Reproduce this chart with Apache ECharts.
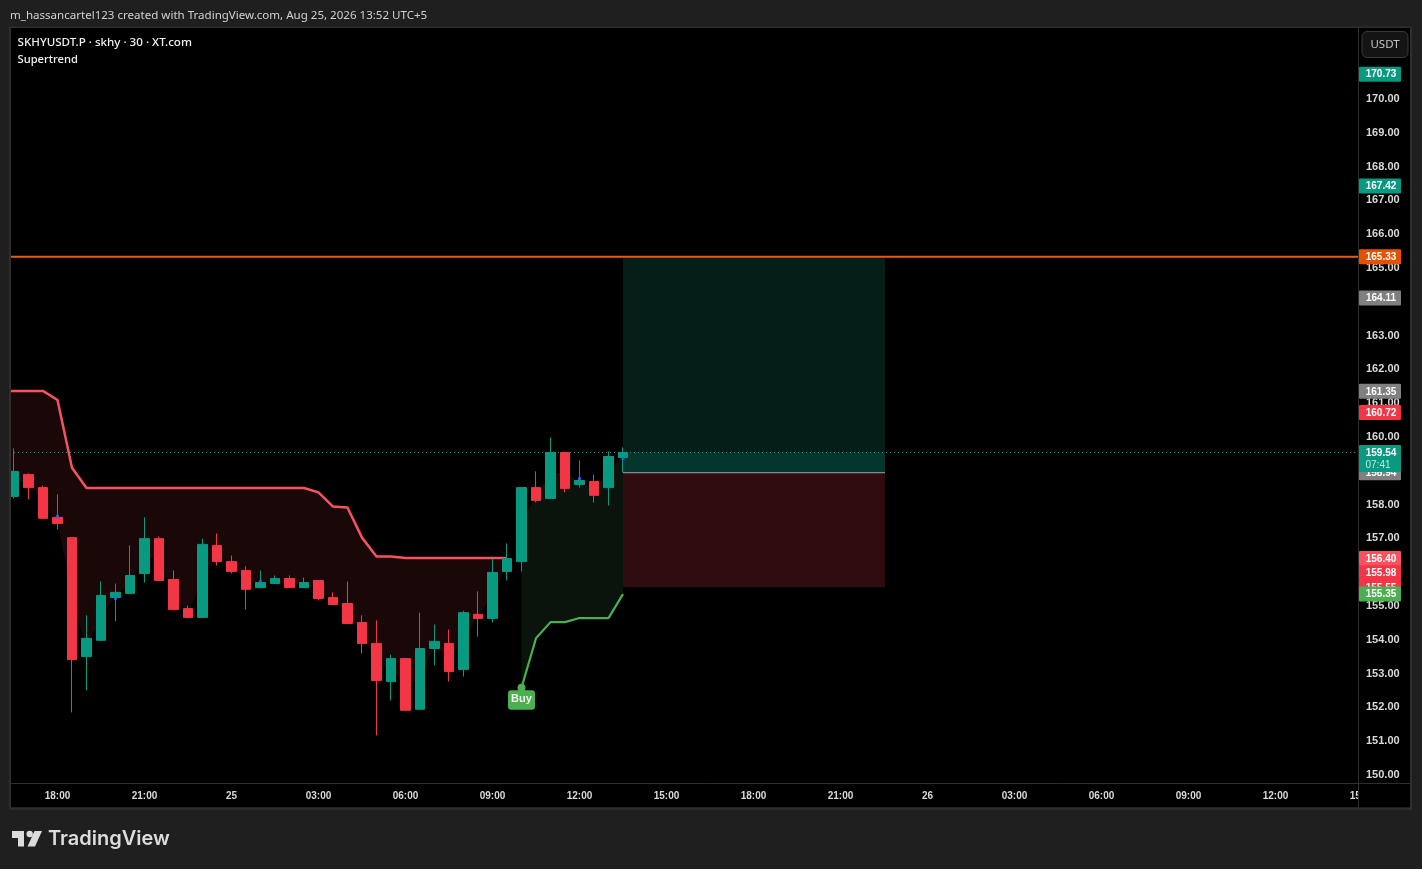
<!DOCTYPE html>
<html>
<head>
<meta charset="utf-8">
<style>html,body{margin:0;padding:0;background:#1f1f1f;overflow:hidden}#c{width:1422px;height:869px}</style>
<script src="https://cdn.jsdelivr.net/npm/echarts@6/dist/echarts.min.js"></script>
</head>
<body>
<div id="c"></div>
<script>
// [open, high, low, close] per 30-minute candle
var candles = [
[158.24,159.66,158.18,158.98],[158.89,158.92,158.15,158.50],[158.50,158.56,157.59,157.59],[157.62,158.30,157.26,157.44],
[157.02,157.02,151.85,153.41],[153.50,154.72,152.50,154.04],[153.98,155.72,153.98,155.31],[155.25,155.66,154.54,155.40],
[155.37,156.79,155.37,155.90],[155.96,157.62,155.69,156.99],[156.99,157.05,155.75,155.75],[155.78,156.05,154.89,154.89],
[154.92,155.01,154.63,154.66],[154.66,156.99,154.66,156.82],[156.79,157.14,156.20,156.31],[156.31,156.49,155.96,156.02],
[156.05,156.17,154.89,155.49],[155.54,156.05,155.54,155.69],[155.66,155.90,155.66,155.81],[155.81,155.90,155.54,155.54],
[155.54,155.84,155.54,155.69],[155.75,155.75,155.16,155.22],[155.25,155.40,155.04,155.04],[155.07,155.72,154.48,154.48],
[154.51,154.72,153.59,153.89],[153.89,154.57,151.17,152.79],[152.76,153.56,152.20,153.44],[153.44,153.44,151.88,151.91],
[151.94,154.80,151.94,153.74],[153.74,154.45,153.24,153.95],[153.89,154.30,152.76,153.06],[153.12,154.86,152.91,154.80],
[154.75,155.43,154.09,154.63],[154.63,156.40,154.51,155.99],[156.02,156.85,155.75,156.40],[156.31,158.50,156.02,158.50],
[158.50,158.98,158.06,158.12],[158.18,159.98,158.18,159.54],[159.54,159.54,158.36,158.47],[158.59,159.30,158.50,158.71],
[158.68,158.89,158.06,158.27],[158.50,159.57,157.97,159.42],[159.39,159.69,158.95,159.54]
];
// Supertrend down-trend values, candle -1 to 34
var trendDown = [161.36,161.36,161.36,161.36,161.09,159.09,158.49,158.49,158.49,158.49,158.49,158.49,158.49,158.49,158.49,158.49,158.49,158.49,158.49,158.49,158.49,158.49,158.36,157.94,157.91,157.02,156.46,156.46,156.42,156.42,156.42,156.42,156.42,156.42,156.42,156.42];
// Supertrend up-trend values, candle 35 to 42
var trendUp = [152.58,154.04,154.52,154.52,154.64,154.64,154.64,155.35];
var blueMarks = [[3,157.65],[7,155.22],[17,155.72],[39,158.77],[42,159.36]];
var priceTicks = [150,151,152,153,154,155,156,157,158,159,160,161,162,163,164,165,166,167,168,169,170];
var timeTickIndex = [3,9,15,21,27,33,39,45,51,57,63,69,75,81,87,93];
var timeTickLabels = ['18:00','21:00','25','03:00','06:00','09:00','12:00','15:00','18:00','21:00','26','03:00','06:00','09:00','12:00','15:00'];
var lastPrice = 159.54;
var entryPrice = 158.94, targetPrice = 165.33, stopPrice = 155.55;
var positionStart = 42, positionEnd = 60.07;
var buyIndex = 35, buyPrice = 152.58;
var tagPrices = [170.73,167.42,165.33,164.11,161.35,160.72,158.94,159.54,156.40,155.98,155.55,155.35];
var tagColors = ['#089981','#089981','#e65100','#7f7f7f','#808080','#f23645','#808080','#089981','#f7525f','#f23645','#f23645','#4caf50'];
var countdown = '07:41';

var TEAL='#089981', RED='#f23645';
var FONT='"Liberation Sans",Arial,sans-serif';
var xMin=-0.276, xMax=96.345, xPlotEnd=92.69;

function bodyMid(c){return (c[0]+c[3])/2;}
function bandPoints(api,line,lineStart){
  var top=[],bot=[];
  line.forEach(function(v,k){
    var idx=lineStart+k; top.push(api.coord([idx,v]));
    var c=candles[idx];
    bot.push(api.coord([idx,bodyMid(c||candles[0])]));
  });
  return top.concat(bot.reverse());
}
function bandSeries(line,lineStart,color){
  return {type:'custom',coordinateSystem:'cartesian2d',silent:true,z:1,clip:true,data:[[lineStart,line[0]]],
    encode:{x:0,y:1},
    renderItem:function(p,api){return {type:'polygon',shape:{points:bandPoints(api,line,lineStart)},style:{fill:color}};}};
}
var zones=[[positionStart,positionEnd,targetPrice,lastPrice],[positionStart,positionEnd,lastPrice,entryPrice],[positionStart,positionEnd,entryPrice,stopPrice]];
var zoneColors=['#051e18','#05362e','#2f0c10'];

var option={
  animation:false,
  backgroundColor:'#1f1f1f',
  textStyle:{fontFamily:FONT},
  grid:{left:10,top:28,width:1401,height:755,show:true,backgroundColor:'#000',borderWidth:0,containLabel:false},
  xAxis:{type:'value',min:xMin,max:xMax,splitLine:{show:false},axisTick:{show:false},
    axisLine:{show:true,lineStyle:{color:'#2e2e2e',width:1}},
    axisLabel:{customValues:timeTickIndex,color:'#d9d9d9',fontSize:10,fontWeight:'bold',fontFamily:FONT,margin:8,hideOverlap:false,
      formatter:function(v){return timeTickLabels[timeTickIndex.indexOf(v)];}}},
  yAxis:{type:'value',position:'right',offset:-53,min:149.760,max:172.098,splitLine:{show:false},axisTick:{show:false},
    axisLine:{show:false},
    axisLabel:{customValues:priceTicks,color:'#d9d9d9',fontSize:11,fontWeight:'bold',fontFamily:FONT,margin:8,
      formatter:function(v){return v.toFixed(2);}}},
  series:[
    bandSeries(trendDown,-1,'#1a0809'),
    bandSeries(trendUp,buyIndex,'#0a130c'),
    {type:'custom',silent:true,z:1,clip:true,data:zones,encode:{x:[0,1],y:[2,3]},
      renderItem:function(p,api){
        var a=api.coord([api.value(0),api.value(2)]),b=api.coord([api.value(1),api.value(3)]);
        return {type:'rect',shape:{x:a[0],y:a[1],width:b[0]-a[0],height:b[1]-a[1]},style:{fill:zoneColors[p.dataIndex]}};
      }},
    {type:'line',z:2,silent:true,symbol:'none',data:[[xMin,lastPrice],[xPlotEnd,lastPrice]],lineStyle:{color:'#0aa98e',width:1,type:[1,3]}},
    {type:'line',z:2,silent:true,symbol:'none',data:[[positionStart,entryPrice],[positionEnd,entryPrice]],lineStyle:{color:'#a6a6a6',width:1}},
    {type:'line',z:2,silent:true,symbol:'none',data:trendDown.map(function(v,k){return [k-1,v];}),lineStyle:{color:'#f7525f',width:2.5}},
    {type:'line',z:2,silent:true,symbol:'none',data:trendUp.map(function(v,k){return [buyIndex+k,v];}),lineStyle:{color:'#4caf50',width:2.2}},
    {type:'candlestick',z:3,silent:true,barWidth:10,
      data:candles.map(function(c,i){return [i,c[0],c[3],c[2],c[1]];}),
      itemStyle:{color:TEAL,color0:RED,borderColor:TEAL,borderColor0:RED,borderWidth:1}},
    {type:'scatter',z:4,silent:true,symbol:'rect',symbolSize:3,data:blueMarks,itemStyle:{color:'#2962ff'}},
    {type:'line',z:2,silent:true,symbol:'none',data:[[xMin,targetPrice],[xPlotEnd,targetPrice]],lineStyle:{color:'#f15a0a',width:2}},
    {type:'custom',z:5,silent:true,clip:false,data:[[buyIndex,buyPrice]],encode:{x:0,y:1},
      renderItem:function(p,api){
        var c=api.coord([api.value(0),api.value(1)]);
        return {type:'group',children:[
          {type:'circle',shape:{cx:c[0],cy:c[1],r:4},style:{fill:'#4caf50'}},
          {type:'rect',shape:{x:c[0]-13.5,y:c[1]+2.5,width:27,height:19.5,r:3},style:{fill:'#4caf50'}},
          {type:'text',style:{text:'Buy',x:c[0],y:c[1]+11.5,fill:'#f0f0f0',font:'bold 11px '+FONT,textAlign:'center',textVerticalAlign:'middle'}}
        ]};
      }},
    {type:'custom',z:6,silent:true,clip:false,data:tagPrices.map(function(v){return [0,v];}),encode:{x:0,y:1},
      renderItem:function(p,api){
        var v=api.value(1),y=api.coord([0,v])[1],big=(v===lastPrice);
        var kids=[{type:'rect',shape:{x:1359,y:y-7.5,width:42,height:big?27:15,r:1},style:{fill:tagColors[p.dataIndex]}},
          {type:'text',style:{text:v.toFixed(2),x:1381,y:y+0.5,fill:'#fff',font:'bold 10px '+FONT,textAlign:'center',textVerticalAlign:'middle'}}];
        if(big) kids.push({type:'text',style:{text:countdown,x:1378,y:y+12.5,fill:'#bfe6df',font:'10px '+FONT,textAlign:'center',textVerticalAlign:'middle'}});
        return {type:'group',children:kids};
      }}
  ],
  graphic:[
    {type:'rect',z:-1,shape:{x:10,y:27.5,width:1401,height:781},style:{fill:'#000',stroke:'#2e2e2e',lineWidth:2}},
    {type:'rect',z:1,shape:{x:1358.5,y:784,width:52,height:23.5},style:{fill:'#000'}},
    {type:'line',z:1,shape:{x1:1358.5,y1:28,x2:1358.5,y2:808},style:{stroke:'#2e2e2e',lineWidth:1}},
    {type:'line',z:1,shape:{x1:10,y1:808.5,x2:1412,y2:808.5},style:{stroke:'#2e2e2e',lineWidth:2}},
    {type:'line',z:1,shape:{x1:1411,y1:27,x2:1411,y2:809},style:{stroke:'#2e2e2e',lineWidth:2}},
    {type:'rect',z:10,shape:{x:0,y:27,width:9,height:782},style:{fill:'#1f1f1f'}},
    {type:'line',z:10,shape:{x1:10,y1:27,x2:10,y2:809},style:{stroke:'#2e2e2e',lineWidth:2}},
    {type:'text',z:7,style:{text:'m_hassancartel123 created with TradingView.com, Aug 25, 2026 13:52 UTC+5',x:10,y:15.5,fill:'#d1d1d1',font:'11.55px "Noto Sans",sans-serif',textVerticalAlign:'middle'}},
    {type:'text',z:7,style:{text:'SKHYUSDT.P · skhy · 30 · XT.com',x:17.5,y:42.5,fill:'#f0f0f0',font:'500 11.6px "Noto Sans",sans-serif',textVerticalAlign:'middle'}},
    {type:'text',z:7,style:{text:'Supertrend',x:17.5,y:59.5,fill:'#f0f0f0',font:'500 11.2px "Noto Sans",sans-serif',textVerticalAlign:'middle'}},
    {type:'rect',z:7,shape:{x:1362,y:31.5,width:46,height:26,r:5},style:{fill:'#141414',stroke:'#3a3a3a',lineWidth:1}},
    {type:'text',z:8,style:{text:'USDT',x:1385,y:45,fill:'#c4c4c4',font:'11.5px "Noto Sans",sans-serif',textAlign:'center',textVerticalAlign:'middle'}},
    {type:'polygon',z:7,shape:{points:[[12,831],[24,831],[24,846.5],[18,846.5],[18,838],[12,838]]},style:{fill:'#dcdcdc'}},
    {type:'circle',z:7,shape:{cx:29.7,cy:834,r:3.2},style:{fill:'#dcdcdc'}},
    {type:'polygon',z:7,shape:{points:[[34.5,831],[42,831],[35,846.5],[27.5,846.5]]},style:{fill:'#dcdcdc'}},
    {type:'text',z:7,style:{text:'TradingView',x:48,y:838.5,fill:'#dcdcdc',font:'600 20px "Inter","Noto Sans",sans-serif',textVerticalAlign:'middle'}}
  ]
};
echarts.init(document.getElementById('c'),null,{renderer:'canvas'}).setOption(option);
</script>
</body>
</html>
